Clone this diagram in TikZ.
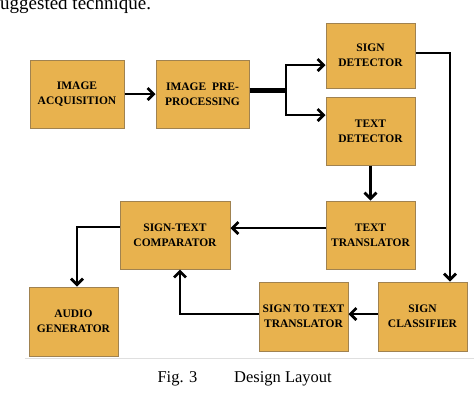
\documentclass[tikz,border=0pt]{standalone}
\usepackage{fontspec}
\setmainfont{Liberation Serif}
\usetikzlibrary{arrows.meta}
\definecolor{boxfill}{RGB}{232,178,78}
\definecolor{boxline}{RGB}{160,130,80}

\begin{document}
\begin{tikzpicture}[x=1pt,y=-1pt,>={Straight Barb[length=6pt,width=12pt]},
    block/.style={draw=boxline,line width=1pt,fill=boxfill,inner sep=0pt,
        minimum width=89pt,minimum height=68pt,align=center,
        font=\bfseries\fontsize{11.5}{15}\selectfont},
    arr/.style={->,line width=2.8pt,black},
    capt/.style={inner sep=0pt,font=\fontsize{16.5}{18}\selectfont}]
    \clip (0,0) rectangle (474,413);
    \fill[white] (0,0) rectangle (474,413);

    \node[anchor=base west,inner sep=0pt,font=\fontsize{19}{22}\selectfont] (intro) at (0,9) {uggested technique.};

    \node[block,minimum width=94pt] (acq) at (77,94) {IMAGE\\ACQUISITION};
    \node[block,minimum width=93pt] (pre) at (202.5,94) {IMAGE\ \ PRE-\\PROCESSING};
    \node[block,minimum height=65pt] (sdet) at (370.5,55.5) {SIGN\\DETECTOR};
    \node[block] (tdet) at (370.5,131) {TEXT\\DETECTOR};
    \node[block] (ttr) at (370.5,235) {TEXT\\TRANSLATOR};
    \node[block,minimum width=110pt] (comp) at (175,235) {SIGN-TEXT\\COMPARATOR};
    \node[block,minimum height=69pt] (audio) at (73.5,321.5) {AUDIO\\GENERATOR};
    \node[block,minimum height=69pt] (s2t) at (303.5,316.5) {SIGN TO TEXT\\TRANSLATOR};
    \node[block,minimum height=69pt] (scls) at (422.5,316.5) {SIGN\\CLASSIFIER};

    \draw[arr] (acq) -- (pre);
    \coordinate (split) at (286,90);
    \draw[line width=5pt] (split -| pre.east) -- (split);
    \draw[arr] (split) |- ([yshift=-9.5pt]sdet.west);
    \draw[arr] (split) |- ([yshift=16pt]tdet.west);
    \draw[arr] ([yshift=2.5pt]sdet.east) -| ([xshift=27.5pt]scls.north);
    \draw[arr] (tdet) -- (ttr);
    \draw[arr] ([yshift=7pt]ttr.west) -- ([yshift=7pt]comp.east);
    \draw[arr] ([yshift=8pt]comp.west) -| ([xshift=3.5pt]audio.north);
    \draw[arr] ([yshift=2.5pt]scls.west) -- ([yshift=2.5pt]s2t.east);
    \draw[arr] ([yshift=2.5pt]s2t.west) -| ([xshift=5pt]comp.south);

    \draw[gray!25,line width=1pt] (25,358) -- (474,358);

    \node[capt] (fig) at (177.5,379) {Fig. 3};
    \node[capt] (title) at (283,379) {Design Layout};
\end{tikzpicture}
\end{document}
